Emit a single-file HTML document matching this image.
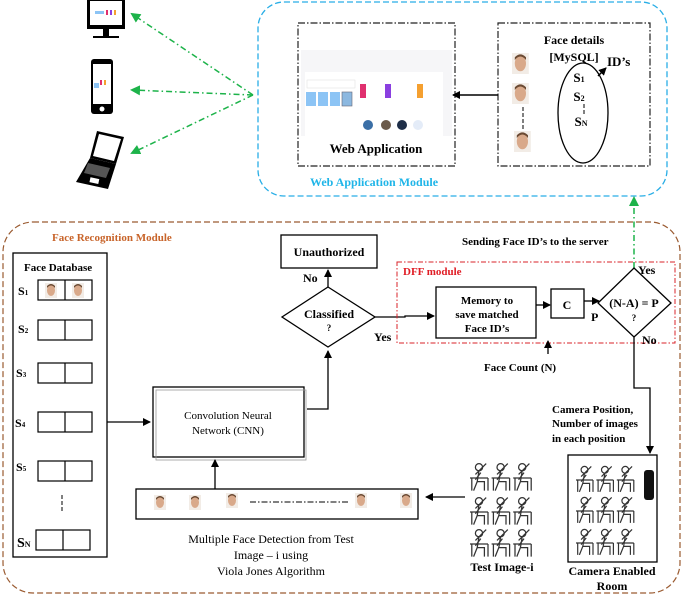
<!DOCTYPE html>
<html><head><meta charset="utf-8"><style>
html,body{margin:0;padding:0;background:#fff;width:685px;height:596px;overflow:hidden}
text{font-family:"Liberation Serif",serif;}
.b{font-weight:bold}
</style></head><body>
<svg width="685" height="596" viewBox="0 0 685 596" xmlns="http://www.w3.org/2000/svg">
<defs>
<marker id="ah" markerWidth="8" markerHeight="8" refX="7" refY="4" orient="auto" markerUnits="userSpaceOnUse"><path d="M0,0 L8,4 L0,8 Z" fill="#000"/></marker>
<marker id="ag" markerWidth="10" markerHeight="10" refX="8" refY="5" orient="auto" markerUnits="userSpaceOnUse"><path d="M0,0 L10,5 L0,10 Z" fill="#1db34a"/></marker>
<g id="face"><rect x="0" y="0" width="12" height="15" fill="#f2ece6"/><ellipse cx="6" cy="7.5" rx="4" ry="5.5" fill="#d9a98a"/><path d="M2,5 Q6,0 10,5 L10,3 Q6,-1 2,3Z" fill="#6b4a33"/></g>
<g id="st" stroke="#333" stroke-width="0.7" fill="none"><circle cx="5" cy="4" r="2"/><path d="M5,6 L4,12 L8,12 L8,17 M4,12 L2,17 M3,8 L9,2 M0,10 L10,10 M1,10 L1,17 M10,10 L10,17 M6,7 L3,11"/></g>
<g id="st3"><use href="#st"/><use href="#st" x="12"/><use href="#st" x="24"/></g>
</defs>

<!-- Web app module -->
<rect x="258" y="2" width="409" height="194" rx="26" fill="none" stroke="#29aee6" stroke-width="1.3" stroke-dasharray="6,3"/>
<text x="310" y="186" font-size="12" class="b" fill="#1fb5e8">Web Application Module</text>
<rect x="298" y="23" width="157" height="143" fill="none" stroke="#222" stroke-width="1.2" stroke-dasharray="7,2,1.5,2"/>
<rect x="301" y="26" width="151" height="110" fill="#f6f6f8"/>
<rect x="301" y="26" width="151" height="24" fill="#fff"/>
<rect x="305" y="72" width="138" height="64" fill="#fff"/>
<rect x="307" y="80" width="48" height="8" fill="#fff" stroke="#ddd" stroke-width="0.5"/>
<rect x="306" y="92" width="10" height="14" fill="#8cc4f5"/><rect x="318" y="92" width="10" height="14" fill="#8cc4f5"/><rect x="330" y="92" width="10" height="14" fill="#8cc4f5"/><rect x="342" y="92" width="10" height="14" fill="#8cb8e0" stroke="#667" stroke-width="0.6"/>
<rect x="360" y="84" width="6" height="14" fill="#e0306f"/><rect x="385" y="84" width="6" height="14" fill="#8a3fe0"/><rect x="417" y="84" width="6" height="14" fill="#f5a030"/>
<circle cx="368" cy="125" r="5" fill="#3b6fa6"/><circle cx="386" cy="125" r="5" fill="#6b5a4a"/><circle cx="402" cy="125" r="5" fill="#1e2e48"/><circle cx="418" cy="125" r="5" fill="#e4ecf8"/>
<text x="376" y="153" font-size="13" class="b" text-anchor="middle">Web Application</text>
<rect x="498" y="23" width="152" height="143" fill="none" stroke="#222" stroke-width="1.2" stroke-dasharray="7,2,1.5,2"/>
<text x="574" y="44" font-size="12" class="b" text-anchor="middle">Face details</text>
<text x="574" y="61" font-size="12" class="b" text-anchor="middle">[MySQL]</text>
<use href="#face" transform="translate(512,53) scale(1.4)"/>
<use href="#face" transform="translate(512,83) scale(1.4)"/>
<use href="#face" transform="translate(514,131) scale(1.4)"/>
<line x1="523" y1="107" x2="523" y2="131" stroke="#000" stroke-dasharray="4,2"/>
<ellipse cx="583" cy="113" rx="25" ry="50" fill="none" stroke="#000" stroke-width="1.3"/>
<text x="579" y="82" font-size="13" class="b" text-anchor="middle">S<tspan font-size="8">1</tspan></text>
<text x="579" y="101" font-size="13" class="b" text-anchor="middle">S<tspan font-size="8">2</tspan></text>
<line x1="584" y1="104" x2="584" y2="116" stroke="#000" stroke-dasharray="4,2"/>
<text x="581" y="126" font-size="13" class="b" text-anchor="middle">S<tspan font-size="8">N</tspan></text>
<text x="607" y="66" font-size="13" class="b">ID’s</text>
<line x1="598" y1="76" x2="606" y2="68" stroke="#000" stroke-width="1.5" marker-end="url(#ah)"/>
<line x1="498" y1="95" x2="453" y2="95" stroke="#000" stroke-width="1.5" marker-end="url(#ah)"/>

<!-- devices -->
<rect x="87" y="0" width="38" height="29" fill="#000"/><rect x="90" y="1" width="32" height="24" fill="#fff"/>
<rect x="95" y="11" width="9" height="3" fill="#8cc4f5"/><rect x="106" y="10" width="2" height="5" fill="#e0306f"/><rect x="110" y="10" width="2" height="5" fill="#8a3fe0"/><rect x="114" y="10" width="2" height="5" fill="#f5a030"/>
<rect x="103" y="29" width="6" height="7" fill="#000"/><rect x="93" y="36" width="26" height="2" fill="#000"/>
<rect x="91" y="59" width="22" height="55" rx="3" fill="#000"/><rect x="93" y="64" width="18" height="40" fill="#fff"/><circle cx="102" cy="109" r="2.5" fill="#fff"/>
<rect x="94" y="83" width="5" height="5" fill="#8cc4f5"/><rect x="100" y="80" width="2" height="5" fill="#e0306f"/><rect x="104" y="80" width="2" height="5" fill="#f5a030"/>
<path d="M97,131 L124,137 L116,164 L90,158 Z" fill="#000"/><path d="M99,134 L121,139 L114,161 L93,156 Z" fill="#fff"/>
<path d="M90,158 L116,164 L108,189 L76,182 Z" fill="#000"/><path d="M88,163 L110,168 L106,178 L84,173 Z" fill="#555"/><rect x="90" y="178" width="9" height="5" fill="#fff" transform="rotate(12 94 180)"/>

<!-- green arrows -->
<g stroke="#1db34a" stroke-width="1.5" stroke-dasharray="6,3,1.5,3" fill="none">
<line x1="253" y1="95" x2="132" y2="14" marker-end="url(#ag)"/>
<line x1="253" y1="95" x2="132" y2="90" marker-end="url(#ag)"/>
<line x1="253" y1="95" x2="132" y2="153" marker-end="url(#ag)"/>
<line x1="634" y1="268" x2="634" y2="198" marker-end="url(#ag)"/>
</g>

<!-- Face recognition module -->
<rect x="3" y="222" width="677" height="371" rx="30" fill="none" stroke="#9a5a30" stroke-width="1.2" stroke-dasharray="6,3"/>
<text x="52" y="241" font-size="11" class="b" fill="#c8642a">Face Recognition Module</text>
<rect x="13" y="253" width="94" height="304" fill="none" stroke="#000" stroke-width="1.3"/>
<text x="24" y="271" font-size="11" class="b">Face Database</text>
<g font-size="12" class="b">
<text x="18" y="295">S<tspan font-size="7">1</tspan></text>
<text x="18" y="333">S<tspan font-size="7">2</tspan></text>
<text x="16" y="377">S<tspan font-size="7">3</tspan></text>
<text x="15" y="427">S<tspan font-size="7">4</tspan></text>
<text x="16" y="471">S<tspan font-size="7">5</tspan></text>
<text x="17" y="547" font-size="14">S<tspan font-size="8">N</tspan></text>
</g>
<g fill="none" stroke="#000" stroke-width="1.2">
<rect x="38" y="280" width="54" height="20"/><line x1="65" y1="280" x2="65" y2="300"/>
<rect x="38" y="320" width="54" height="20"/><line x1="65" y1="320" x2="65" y2="340"/>
<rect x="38" y="363" width="54" height="20"/><line x1="65" y1="363" x2="65" y2="383"/>
<rect x="38" y="412" width="54" height="20"/><line x1="65" y1="412" x2="65" y2="432"/>
<rect x="38" y="461" width="54" height="20"/><line x1="65" y1="461" x2="65" y2="481"/>
<rect x="36" y="530" width="54" height="20"/><line x1="63" y1="530" x2="63" y2="550"/>
</g>
<use href="#face" x="45" y="283"/><use href="#face" x="72" y="283"/>
<line x1="62" y1="495" x2="62" y2="513" stroke="#000" stroke-dasharray="4,2"/>

<line x1="107" y1="422" x2="150" y2="422" stroke="#000" stroke-width="1.3" marker-end="url(#ah)"/>
<rect x="153" y="387" width="151" height="70" fill="none" stroke="#000" stroke-width="1.3"/>
<rect x="156" y="390" width="150" height="70" fill="none" stroke="#999" stroke-width="0.8"/>
<text x="228" y="419" font-size="11" text-anchor="middle">Convolution Neural</text>
<text x="228" y="434" font-size="11" text-anchor="middle">Network (CNN)</text>
<path d="M307,409 L328,409 L328,351" fill="none" stroke="#000" stroke-width="1.3" marker-end="url(#ah)"/>
<path d="M328,287 L375,317 L328,347 L282,317 Z" fill="#fff" stroke="#000" stroke-width="1.3"/>
<text x="329" y="318" font-size="12" class="b" text-anchor="middle">Classified</text>
<text x="329" y="331" font-size="9" class="b" text-anchor="middle">?</text>
<line x1="328" y1="287" x2="328" y2="270" stroke="#000" stroke-width="1.3" marker-end="url(#ah)"/>
<rect x="281" y="235" width="96" height="33" fill="none" stroke="#000" stroke-width="1.3"/>
<text x="329" y="256" font-size="12" class="b" text-anchor="middle">Unauthorized</text>
<text x="303" y="282" font-size="12" class="b">No</text>
<text x="374" y="341" font-size="12" class="b">Yes</text>
<path d="M375,317 L405,317 L405,316 L434,316" fill="none" stroke="#000" stroke-width="1.3" marker-end="url(#ah)"/>

<rect x="397" y="262" width="278" height="81" fill="none" stroke="#d8232a" stroke-width="1" stroke-dasharray="5,2,1.5,2"/>
<text x="403" y="275" font-size="11" class="b" fill="#e01c24">DFF module</text>
<rect x="436" y="287" width="100" height="51" fill="#fff" stroke="#000" stroke-width="1.3"/>
<text x="487" y="304" font-size="11" class="b" text-anchor="middle">Memory to</text>
<text x="487" y="318" font-size="11" class="b" text-anchor="middle">save matched</text>
<text x="487" y="332" font-size="11" class="b" text-anchor="middle">Face ID’s</text>
<line x1="536" y1="305" x2="550" y2="305" stroke="#000" stroke-width="1.3" marker-end="url(#ah)"/>
<rect x="551" y="289" width="33" height="29" fill="#fff" stroke="#000" stroke-width="1.3"/>
<text x="567" y="309" font-size="12" class="b" text-anchor="middle">C</text>
<line x1="584" y1="301" x2="599" y2="301" stroke="#000" stroke-width="1.3" marker-end="url(#ah)"/>
<text x="591" y="321" font-size="12" class="b">P</text>
<path d="M634,268 L671,303 L634,337 L598,303 Z" fill="#fff" stroke="#000" stroke-width="1.3"/>
<text x="634" y="307" font-size="12" class="b" text-anchor="middle">(N-A) = P</text>
<text x="634" y="321" font-size="9" class="b" text-anchor="middle">?</text>
<text x="638" y="274" font-size="12" class="b">Yes</text>
<text x="642" y="344" font-size="12" class="b">No</text>
<text x="462" y="245" font-size="11" class="b">Sending Face ID’s to the server</text>
<line x1="548" y1="354" x2="548" y2="341" stroke="#000" stroke-width="1.3" marker-end="url(#ah)"/>
<text x="484" y="371" font-size="11" class="b">Face Count (N)</text>
<path d="M634,337 L634,388 L650,388 L650,453" fill="none" stroke="#000" stroke-width="1.3" marker-end="url(#ah)"/>
<text x="552" y="413" font-size="11" class="b">Camera Position,</text>
<text x="552" y="427" font-size="11" class="b">Number of images</text>
<text x="552" y="442" font-size="11" class="b">in each position</text>

<rect x="568" y="455" width="89" height="107" fill="none" stroke="#000" stroke-width="1.3"/>
<use href="#st3" transform="translate(576,463) scale(1.7)"/>
<use href="#st3" transform="translate(576,494) scale(1.7)"/>
<use href="#st3" transform="translate(576,526) scale(1.7)"/>
<rect x="644" y="470" width="10" height="30" rx="3" fill="#111"/>
<text x="612" y="575" font-size="12" class="b" text-anchor="middle">Camera Enabled</text>
<text x="612" y="590" font-size="12" class="b" text-anchor="middle">Room</text>
<use href="#st3" transform="translate(470,460) scale(1.8)"/>
<use href="#st3" transform="translate(470,494) scale(1.8)"/>
<use href="#st3" transform="translate(470,526) scale(1.8)"/>
<text x="502" y="571" font-size="12" class="b" text-anchor="middle">Test Image-i</text>
<line x1="465" y1="497" x2="426" y2="497" stroke="#000" stroke-width="1.3" marker-end="url(#ah)"/>

<rect x="136" y="489" width="282" height="30" fill="none" stroke="#000" stroke-width="1.3"/>
<use href="#face" x="154" y="495"/><use href="#face" x="189" y="495"/><use href="#face" x="226" y="493"/><use href="#face" x="355" y="493"/><use href="#face" x="400" y="493"/>
<line x1="250" y1="502" x2="350" y2="502" stroke="#000" stroke-dasharray="6,2,1.5,2"/>
<line x1="215" y1="489" x2="215" y2="460" stroke="#000" stroke-width="1.3" marker-end="url(#ah)"/>
<text x="271" y="543" font-size="12" text-anchor="middle">Multiple Face Detection from Test</text>
<text x="271" y="559" font-size="12" text-anchor="middle">Image – i using</text>
<text x="271" y="575" font-size="12" text-anchor="middle">Viola Jones Algorithm</text>
</svg>
</body></html>
